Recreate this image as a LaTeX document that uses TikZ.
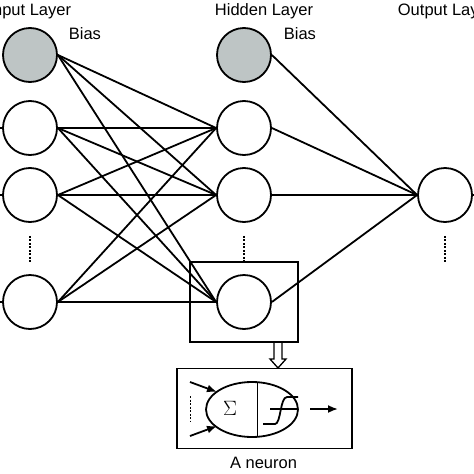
\documentclass[tikz,border=0pt]{standalone}
\usepackage{fontspec}
\setmainfont{Liberation Sans}
\usetikzlibrary{shapes.geometric,arrows.meta}
\definecolor{biasgray}{RGB}{190,197,197}

\begin{document}
\begin{tikzpicture}[x=1pt,y=-1pt,line width=1.8pt,font=\fontsize{16.5}{19.8}\selectfont,
  unit/.style={circle,draw,minimum size=54pt,inner sep=0pt},
  biasunit/.style={unit,fill=biasgray},
  vdots/.style={line width=1.2pt,dash pattern=on 2pt off 1.5pt},
  tip/.style={-{Latex[length=10pt,width=8pt]}}]
\useasboundingbox (0,0) rectangle (474,474);
\node[biasunit] (i0) at (30,55) {};
\node[unit] (i1) at (30,128) {};
\node[unit] (i2) at (30,195) {};
\node[unit] (i3) at (30,302) {};
\node[biasunit] (h0) at (244,55) {};
\node[unit] (h1) at (244,128) {};
\node[unit] (h2) at (244,195) {};
\node[unit] (h3) at (244,302) {};
\node[unit] (o1) at (445,195) {};
\node[anchor=base east,inner sep=0pt] (tin) at (72,15) {Input Layer};
\node[anchor=base,inner sep=0pt] (thid) at (264,15) {Hidden Layer};
\node[anchor=base west,inner sep=0pt] (tout) at (397,15) {Output Layer};
\node[anchor=base west,inner sep=0pt] (bin) at (68,39) {Bias};
\node[anchor=base west,inner sep=0pt] (bhid) at (283,39) {Bias};
\foreach \i in {0,...,3}
  \foreach \h in {1,2,3}
    \draw (i\i.east) -- (h\h.west);
\foreach \h in {0,...,3}
  \draw (h\h.east) -- (o1.west);
\foreach \i in {1,2,3}
  \draw (i\i.west) -- ++(-10,0);
\draw (o1.east) -- ++(10,0);
\foreach \n in {i2,h2,o1}
  \draw[vdots] (\n.south) ++(0,13) -- ++(0,27);
\node[draw,minimum width=108pt,minimum height=80pt,inner sep=0pt] (fbox) at (244,302) {};
\node[draw,minimum width=175pt,minimum height=80pt,inner sep=0pt] (nbox) at (264.5,408.5) {};
\draw[line width=1.3pt] (274,342) -- (282,342) -- (282,359) -- (286,359) -- (278,368) -- (270,359) -- (274,359) -- cycle;
\node[ellipse,draw,minimum width=92pt,minimum height=55pt,inner sep=0pt] (cell) at (252,409.5) {};
\draw (257.5,382.3) -- (257.5,436.7);
\node[inner sep=0pt,font=\fontsize{20}{20}\selectfont] (sum) at (230,408.5) {$\Sigma$};
\coordinate (a1) at (190,382);
\coordinate (a2) at (190,436);
\coordinate (b1) at (217,392);
\coordinate (b2) at (217,426);
\draw[tip] (a1) -- (b1);
\draw[tip] (a2) -- (b2);
\draw[vdots] (190.5,396) -- (190.5,422);
\draw (263,424) -- (275,424) .. controls (281,424) and (280,397) .. (287,397) -- (298,397);
\draw (270,409) -- (297,409);
\coordinate (c1) at (310,409);
\coordinate (c2) at (338,409);
\draw[tip] (c1) -- (c2);
\node[anchor=base,inner sep=0pt] (tneu) at (263.5,468) {A neuron};
\end{tikzpicture}
\end{document}
